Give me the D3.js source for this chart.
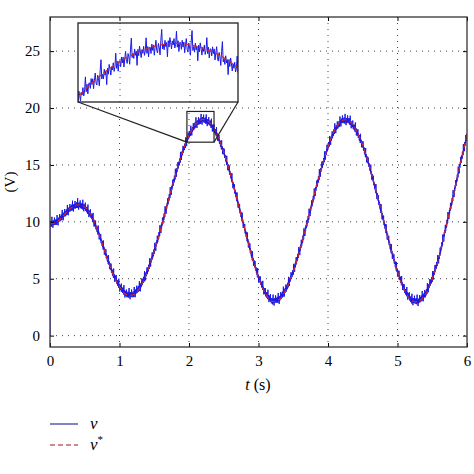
<!DOCTYPE html>
<html><head><meta charset="utf-8">
<script src="https://cdn.jsdelivr.net/npm/d3@7"></script>
<style>body{margin:0;background:#fff}svg text{font-family:"Liberation Serif","Times New Roman",Times,"DejaVu Serif",serif !important}</style>
</head><body><div id="chart"></div>
<script>
var times = d3.range(0, 61).map(function(i){ return i / 10; });
var vStar = [9.8,10.0,10.6,11.2,11.5,11.3,10.5,9.0,7.2,5.5,4.3,3.6,3.6,4.3,5.6,7.4,9.5,11.8,14.0,16.0,
  17.6,18.6,19.0,18.7,17.7,16.1,14.1,11.8,9.4,7.1,5.1,3.7,3.0,3.2,4.1,5.6,7.6,9.9,12.3,14.6,
  16.6,18.1,18.9,18.9,18.1,16.7,14.8,12.5,10.1,7.7,5.6,4.0,3.1,3.0,3.6,5.0,6.9,9.6,12.2,15.0,17.6];
var vNoise = [0.2,-0.3,0.4,-0.1,0.3,-0.5,0.1,0.6,-0.2,-0.4,0.3,0.0,-0.6,0.5,1.3,-0.2,0.1,-0.3,0.4,-0.1,
  0.2,-0.9,0.3,-0.2,0.5,0.1,-0.4,0.2,-0.1,0.4,-0.3,0.0,1.0,-0.2,0.3,-0.5,0.2];
var xTicks = [0,1,2,3,4,5,6];
var yTicks = [0,5,10,15,20,25];
var zoomT = [1.97, 2.36], zoomV = [17.0, 19.7];

var svg = d3.select("#chart").append("svg").attr("width", 474).attr("height", 474);
var x = d3.scaleLinear().domain([0, 6]).range([50, 467]);
var y = d3.scaleLinear().domain([-1, 28]).range([347, 17]);

var ref = d3.scaleLinear().domain(times).range(vStar);
var vData = [[0, 0]];
d3.range(0, 3001).forEach(function(i){
  var t = i * 0.002;
  vData.push([t, ref(t) + vNoise[i % vNoise.length] * 0.45]);
});
var sData = times.map(function(t, i){ return [t, vStar[i]]; });

// grid
svg.append("g").selectAll("line").data(xTicks.slice(1, -1)).enter().append("line")
  .attr("x1", x).attr("x2", x).attr("y1", 17).attr("y2", 347)
  .attr("stroke", "#444").attr("stroke-dasharray", "1,5");
svg.append("g").selectAll("line").data(yTicks).enter().append("line")
  .attr("y1", y).attr("y2", y).attr("x1", 50).attr("x2", 467)
  .attr("stroke", "#444").attr("stroke-dasharray", "1,5");

svg.append("defs").append("clipPath").attr("id", "clip").append("rect")
  .attr("x", 50).attr("y", 17).attr("width", 417).attr("height", 330);

function drawLines(g, xs, ys) {
  g.append("path").datum(vData).attr("fill", "none").attr("stroke", "#1a1ae6").attr("stroke-width", 1)
    .attr("d", d3.line().x(function(d){ return xs(d[0]); }).y(function(d){ return ys(d[1]); }));
  g.append("path").datum(sData).attr("fill", "none").attr("stroke", "#d02828").attr("stroke-width", 1.2)
    .attr("stroke-dasharray", "5,3")
    .attr("d", d3.line().curve(d3.curveCatmullRom).x(function(d){ return xs(d[0]); }).y(function(d){ return ys(d[1]); }));
}
drawLines(svg.append("g").attr("clip-path", "url(#clip)"), x, y);

// axes
svg.append("g").attr("transform", "translate(0,347)")
  .call(d3.axisBottom(x).tickValues(xTicks).tickSize(-4).tickPadding(8).tickFormat(d3.format("d")))
  .call(function(g){ g.select(".domain").remove(); g.selectAll("text").attr("font-size", 15); });
svg.append("g").attr("transform", "translate(50,0)")
  .call(d3.axisLeft(y).tickValues(yTicks).tickSize(-4).tickPadding(10))
  .call(function(g){ g.select(".domain").remove(); g.selectAll("text").attr("font-size", 15); });
svg.append("g").attr("transform", "translate(467,0)")
  .call(d3.axisRight(y).tickValues(yTicks).tickSize(-4).tickFormat(""))
  .call(function(g){ g.select(".domain").remove(); });
svg.append("g").attr("transform", "translate(0,17)")
  .call(d3.axisTop(x).tickValues(xTicks).tickSize(-4).tickFormat(""))
  .call(function(g){ g.select(".domain").remove(); });
svg.append("rect").attr("x", 50).attr("y", 17).attr("width", 417).attr("height", 330)
  .attr("fill", "none").attr("stroke", "#333").attr("stroke-width", 1.3);

// zoom box and inset
var zx = d3.scaleLinear().domain(zoomT).range([78, 238]);
var zy = d3.scaleLinear().domain(zoomV).range([102, 23]);
var bx0 = x(zoomT[0]), bx1 = x(zoomT[1]), by0 = y(zoomV[1]), by1 = y(zoomV[0]);
svg.append("rect").attr("x", 78).attr("y", 23).attr("width", 160).attr("height", 79).attr("fill", "#fff");
svg.append("g").selectAll("line").data([120, 190]).enter().append("line")
  .attr("x1", function(d){ return d; }).attr("x2", function(d){ return d; }).attr("y1", 23).attr("y2", 102)
  .attr("stroke", "#444").attr("stroke-dasharray", "1,5");
svg.append("defs").append("clipPath").attr("id", "clip2").append("rect")
  .attr("x", 78).attr("y", 23).attr("width", 160).attr("height", 79);
drawLines(svg.append("g").attr("clip-path", "url(#clip2)"), zx, zy);
svg.append("rect").attr("x", 78).attr("y", 23).attr("width", 160).attr("height", 79)
  .attr("fill", "none").attr("stroke", "#222").attr("stroke-width", 1.3);
svg.append("rect").attr("x", bx0).attr("y", by0).attr("width", bx1 - bx0).attr("height", by1 - by0)
  .attr("fill", "none").attr("stroke", "#222").attr("stroke-width", 1.2);
svg.append("line").attr("x1", 78).attr("y1", 102).attr("x2", bx0).attr("y2", by1).attr("stroke", "#222").attr("stroke-width", 1.2);
svg.append("line").attr("x1", 238).attr("y1", 102).attr("x2", bx1).attr("y2", by1).attr("stroke", "#222").attr("stroke-width", 1.2);

// labels
svg.append("text").attr("transform", "translate(15,182) rotate(-90)").attr("text-anchor", "middle")
  .attr("font-size", 15).text("(V)");
var xl = svg.append("text").attr("x", 258).attr("y", 390).attr("text-anchor", "middle").attr("font-size", 16);
xl.append("tspan").attr("font-style", "italic").text("t");
xl.append("tspan").text(" (s)");

// legend
svg.append("line").attr("x1", 50).attr("x2", 78).attr("y1", 424).attr("y2", 424).attr("stroke", "#5a5ab0").attr("stroke-width", 1.5);
svg.append("line").attr("x1", 50).attr("x2", 78).attr("y1", 445).attr("y2", 445).attr("stroke", "#c06070").attr("stroke-width", 1.5).attr("stroke-dasharray", "5,3");
svg.append("text").attr("x", 90).attr("y", 429).attr("font-size", 17).attr("font-style", "italic").text("v");
var l2 = svg.append("text").attr("x", 90).attr("y", 450).attr("font-size", 17).attr("font-style", "italic").text("v");
l2.append("tspan").attr("dy", -7).attr("font-size", 11).attr("font-style", "normal").text("*");
</script></body></html>
